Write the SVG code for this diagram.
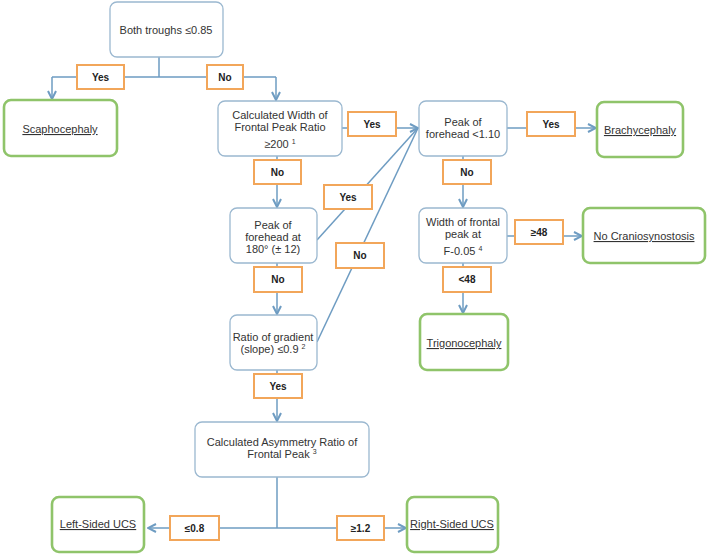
<svg xmlns="http://www.w3.org/2000/svg" width="708" height="555" viewBox="0 0 708 555">
<style>
.bg{fill:#fff}
.n{fill:#fff;stroke:#9bb8d0;stroke-width:1.3}
.g{fill:#fff;stroke:#8fc46a;stroke-width:2.6}
.l{fill:#fff;stroke:#f2a65a;stroke-width:2}
.c{fill:none;stroke:#6e9cc2;stroke-width:1.5}
.t{font-family:"Liberation Sans",Arial,sans-serif;font-size:11px;fill:#333;text-anchor:middle}
.u{text-decoration:underline}
.b{font-family:"Liberation Sans",Arial,sans-serif;font-size:10px;font-weight:bold;fill:#222;text-anchor:middle}
.s{font-size:7px}
</style>
<defs>
<marker id="ar" viewBox="0 0 10 10" refX="9" refY="5" markerWidth="10" markerHeight="10" markerUnits="userSpaceOnUse" orient="auto">
<path d="M1,1 L9,5 L1,9" fill="none" stroke="#6e9cc2" stroke-width="2"/>
</marker>
</defs>
<rect class="bg" width="708" height="555"/>
<g id="connectors">
<path class="c" d="M159,57 V77 M52,77 H276"/>
<path class="c" d="M52,77 V99" marker-end="url(#ar)"/>
<path class="c" d="M276,77 V100" marker-end="url(#ar)"/>
<path class="c" d="M342,128 H418" marker-end="url(#ar)"/>
<path class="c" d="M317,240 L418,128"/>
<path class="c" d="M317,342 L418,128"/>
<path class="c" d="M277,156 V207" marker-end="url(#ar)"/>
<path class="c" d="M277,263 V314" marker-end="url(#ar)"/>
<path class="c" d="M277,370 V421" marker-end="url(#ar)"/>
<path class="c" d="M277,477 V528"/>
<path class="c" d="M277,528 H148" marker-end="url(#ar)"/>
<path class="c" d="M277,528 H406" marker-end="url(#ar)"/>
<path class="c" d="M507,128 H596" marker-end="url(#ar)"/>
<path class="c" d="M463,156 V207" marker-end="url(#ar)"/>
<path class="c" d="M507,236 H582" marker-end="url(#ar)"/>
<path class="c" d="M463,263 V313" marker-end="url(#ar)"/>
</g>
<g id="labels">
<g id="lbl-yes1"><rect class="l" x="77" y="65" width="47" height="24"/><text class="b" x="100.5" y="81">Yes</text></g>
<g id="lbl-no1"><rect class="l" x="207" y="65" width="36" height="24"/><text class="b" x="225" y="81">No</text></g>
<g id="lbl-yes2"><rect class="l" x="348" y="112" width="48" height="24"/><text class="b" x="372" y="128">Yes</text></g>
<g id="lbl-no2"><rect class="l" x="254" y="160" width="47" height="24"/><text class="b" x="277.5" y="176">No</text></g>
<g id="lbl-yes3"><rect class="l" x="324" y="185" width="48" height="24"/><text class="b" x="348" y="201">Yes</text></g>
<g id="lbl-no3"><rect class="l" x="336" y="243" width="48" height="25"/><text class="b" x="360" y="259">No</text></g>
<g id="lbl-no4"><rect class="l" x="254" y="267" width="48" height="25"/><text class="b" x="278" y="283">No</text></g>
<g id="lbl-yes4"><rect class="l" x="254" y="374" width="48" height="24"/><text class="b" x="278" y="390">Yes</text></g>
<g id="lbl-le08"><rect class="l" x="170" y="516" width="49" height="24"/><text class="b" x="194.5" y="532">≤0.8</text></g>
<g id="lbl-ge12"><rect class="l" x="337" y="516" width="47" height="24"/><text class="b" x="360.5" y="532">≥1.2</text></g>
<g id="lbl-yes5"><rect class="l" x="527" y="112" width="48" height="24"/><text class="b" x="551" y="128">Yes</text></g>
<g id="lbl-no5"><rect class="l" x="443" y="160" width="48" height="24"/><text class="b" x="467" y="176">No</text></g>
<g id="lbl-ge48"><rect class="l" x="515" y="220" width="48" height="24"/><text class="b" x="539" y="236">≥48</text></g>
<g id="lbl-lt48"><rect class="l" x="443" y="267" width="48" height="25"/><text class="b" x="467" y="283">&lt;48</text></g>
</g>
<g id="both-troughs"><rect class="n" x="110" y="2" width="113" height="55" rx="7"/><text class="t" x="166" y="34">Both troughs ≤0.85</text></g>
<g id="scaphocephaly"><rect class="g" x="4" y="100" width="113" height="56" rx="7"/><text class="t u" x="60" y="133">Scaphocephaly</text></g>
<g id="calc-width"><rect class="n" x="218" y="101" width="124" height="55" rx="7"/><text class="t" x="280" y="119">Calculated Width of</text><text class="t" x="280" y="131">Frontal Peak Ratio</text><text class="t" x="280" y="148">≥200 <tspan class="s" dy="-4">1</tspan></text></g>
<g id="peak-forehead"><rect class="n" x="419" y="101" width="88" height="55" rx="7"/><text class="t" x="463" y="126">Peak of</text><text class="t" x="463" y="138">forehead &lt;1.10</text></g>
<g id="brachycephaly"><rect class="g" x="597" y="102" width="86" height="55" rx="7"/><text class="t u" x="640" y="134">Brachycephaly</text></g>
<g id="peak-180"><rect class="n" x="230" y="208" width="87" height="55" rx="7"/><text class="t" x="273" y="229">Peak of</text><text class="t" x="273" y="241">forehead at</text><text class="t" x="273" y="253">180° (± 12)</text></g>
<g id="width-frontal"><rect class="n" x="419" y="208" width="88" height="55" rx="7"/><text class="t" x="463" y="226">Width of frontal</text><text class="t" x="463" y="238">peak at</text><text class="t" x="463" y="255">F-0.05 <tspan class="s" dy="-4">4</tspan></text></g>
<g id="no-cranio"><rect class="g" x="583" y="208" width="122" height="55" rx="7"/><text class="t u" x="644" y="240">No Craniosynostosis</text></g>
<g id="ratio-gradient"><rect class="n" x="230" y="315" width="87" height="55" rx="7"/><text class="t" x="273" y="341">Ratio of gradient</text><text class="t" x="273" y="353">(slope) ≤0.9 <tspan class="s" dy="-4">2</tspan></text></g>
<g id="trigonocephaly"><rect class="g" x="420" y="314" width="88" height="56" rx="7"/><text class="t u" x="464" y="347">Trigonocephaly</text></g>
<g id="asymmetry"><rect class="n" x="195" y="422" width="174" height="55" rx="7"/><text class="t" x="282" y="446">Calculated Asymmetry Ratio of</text><text class="t" x="282" y="458">Frontal Peak <tspan class="s" dy="-4">3</tspan></text></g>
<g id="left-ucs"><rect class="g" x="52" y="497" width="92" height="55" rx="7"/><text class="t u" x="98" y="528">Left-Sided UCS</text></g>
<g id="right-ucs"><rect class="g" x="407" y="497" width="91" height="55" rx="7"/><text class="t u" x="452" y="528">Right-Sided UCS</text></g>
</svg>
